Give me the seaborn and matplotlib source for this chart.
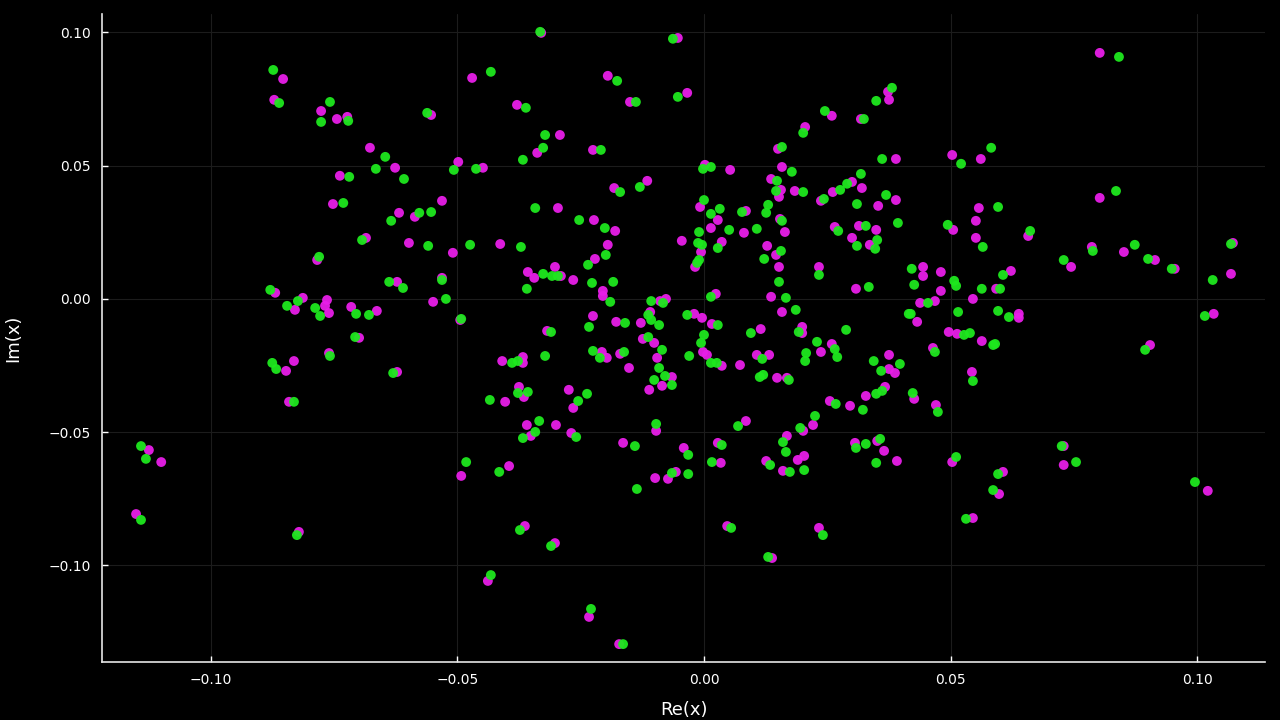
import numpy as np
import pandas as pd
import matplotlib
matplotlib.use("Agg")
import matplotlib.pyplot as plt
import seaborn as sns

# eigenvalue estimates (Re, Im)
magenta_re = [
    -0.0853, -0.0871, -0.0776, -0.0744, -0.0723, -0.0677, -0.0626, -0.0738, -0.0752, -0.0618,
    -0.0330, -0.0053, -0.0470, -0.0195, -0.0034, -0.0379, -0.0150, -0.0553, -0.0292, -0.0338,
    -0.0225, -0.0498, -0.0448, -0.0531, -0.0586, -0.0296, -0.0223, -0.0180, -0.0182, -0.0115,
    -0.0008, 0.0373, 0.0375, 0.0259, 0.0318, 0.0205, 0.0150, 0.0389, 0.0503, 0.0561,
    0.0002, 0.0053, 0.0158, 0.0136, 0.0156, 0.0152, 0.0184, 0.0300, 0.0261, 0.0320,
    0.0237, 0.0389, 0.0353, 0.0028, 0.0014, 0.0085, 0.0154, 0.0081, 0.0164, 0.0265,
    0.0314, 0.0349, 0.0505, 0.0557, 0.0551, 0.0802, 0.0802, -0.0685, -0.0784, -0.0622,
    -0.0869, -0.0829, -0.0813, -0.0764, -0.0768, -0.0760, -0.0715, -0.0663, -0.0699, -0.0760,
    -0.0831, -0.0847, -0.0841, -0.0622, -0.1125, -0.1100, -0.1151, -0.0821, -0.0598, -0.0509,
    -0.0413, -0.0531, -0.0549, -0.0494, -0.0357, -0.0344, -0.0302, -0.0290, -0.0265, -0.0195,
    -0.0221, -0.0205, -0.0205, -0.0225, -0.0178, -0.0128, -0.0089, -0.0077, -0.0109, -0.0020,
    -0.0004, -0.0045, -0.0006, -0.0018, -0.0002, -0.0318, -0.0409, -0.0367, -0.0367, -0.0207,
    -0.0197, -0.0170, -0.0124, -0.0101, -0.0095, -0.0152, -0.0065, -0.0111, -0.0085, -0.0375,
    -0.0365, -0.0403, -0.0274, -0.0265, -0.0359, -0.0351, -0.0300, -0.0269, -0.0097, -0.0164,
    -0.0041, -0.0492, -0.0395, -0.0099, -0.0073, -0.0057, -0.0363, -0.0302, -0.0438, -0.0233,
    -0.0172, 0.0036, 0.0128, 0.0146, 0.0152, 0.0136, 0.0158, 0.0233, 0.0308, 0.0300,
    0.0336, 0.0024, 0.0016, 0.0006, 0.0036, 0.0073, 0.0115, 0.0199, 0.0199, 0.0259,
    0.0237, 0.0107, 0.0132, 0.0148, 0.0168, 0.0375, 0.0375, 0.0387, 0.0367, 0.0328,
    0.0255, 0.0296, 0.0221, 0.0201, 0.0085, 0.0168, 0.0028, 0.0306, 0.0351, 0.0426,
    0.0470, 0.0464, 0.0543, 0.0563, 0.0496, 0.0513, 0.0432, 0.0438, 0.0468, 0.0545,
    0.0444, 0.0444, 0.0480, 0.0480, 0.0592, 0.0551, 0.0657, 0.0744, 0.0786, 0.0851,
    0.0914, 0.0954, 0.1072, 0.1068, 0.0622, 0.0638, 0.0638, 0.0904, 0.1033, 0.0729,
    0.0034, 0.0126, 0.0160, 0.0190, 0.0203, 0.0365, 0.0391, 0.0503, 0.0598, 0.0047,
    0.0233, 0.0138, 0.0545, 0.0729, 0.0606, 0.1021,
]
magenta_im = [
    0.0825, 0.0747, 0.0705, 0.0675, 0.0683, 0.0567, 0.0492, 0.0462, 0.0356, 0.0323,
    0.0998, 0.0979, 0.0829, 0.0837, 0.0773, 0.0728, 0.0739, 0.0690, 0.0615, 0.0548,
    0.0559, 0.0514, 0.0492, 0.0368, 0.0308, 0.0341, 0.0296, 0.0255, 0.0416, 0.0443,
    0.0345, 0.0777, 0.0747, 0.0687, 0.0675, 0.0645, 0.0563, 0.0525, 0.0540, 0.0525,
    0.0503, 0.0484, 0.0495, 0.0450, 0.0409, 0.0383, 0.0405, 0.0439, 0.0401, 0.0416,
    0.0368, 0.0371, 0.0349, 0.0296, 0.0266, 0.0330, 0.0300, 0.0248, 0.0251, 0.0270,
    0.0274, 0.0259, 0.0259, 0.0341, 0.0293, 0.0923, 0.0379, 0.0229, 0.0146, 0.0064,
    0.0023, -0.0041, 0.0004, -0.0004, -0.0026, -0.0053, -0.0030, -0.0045, -0.0146, -0.0203,
    -0.0233, -0.0270, -0.0386, -0.0274, -0.0567, -0.0612, -0.0807, -0.0874, 0.0210, 0.0173,
    0.0206, 0.0079, -0.0011, -0.0079, 0.0101, 0.0079, 0.0120, 0.0086, 0.0071, 0.0203,
    0.0150, 0.0030, 0.0011, -0.0064, -0.0086, -0.0090, -0.0008, 0.0000, -0.0049, -0.0056,
    -0.0071, 0.0218, 0.0176, 0.0120, -0.0199, -0.0120, -0.0233, -0.0218, -0.0240, -0.0199,
    -0.0221, -0.0206, -0.0150, -0.0165, -0.0221, -0.0259, -0.0293, -0.0341, -0.0326, -0.0330,
    -0.0368, -0.0386, -0.0341, -0.0409, -0.0473, -0.0514, -0.0473, -0.0503, -0.0495, -0.0540,
    -0.0559, -0.0664, -0.0627, -0.0672, -0.0675, -0.0649, -0.0852, -0.0916, -0.1058, -0.1193,
    -0.1295, 0.0214, 0.0199, 0.0165, 0.0120, 0.0008, -0.0049, 0.0120, 0.0038, 0.0229,
    0.0203, 0.0019, -0.0094, -0.0210, -0.0251, -0.0248, -0.0113, -0.0105, -0.0128, -0.0169,
    -0.0199, -0.0210, -0.0210, -0.0296, -0.0296, -0.0210, -0.0263, -0.0278, -0.0330, -0.0364,
    -0.0383, -0.0401, -0.0473, -0.0495, -0.0458, -0.0514, -0.0540, -0.0540, -0.0533, -0.0375,
    -0.0398, -0.0184, -0.0274, -0.0158, -0.0124, -0.0131, -0.0086, -0.0015, -0.0008, 0.0000,
    0.0120, 0.0086, 0.0101, 0.0030, 0.0038, 0.0229, 0.0236, 0.0120, 0.0195, 0.0176,
    0.0146, 0.0113, 0.0210, 0.0094, 0.0105, -0.0056, -0.0071, -0.0173, -0.0056, -0.0552,
    -0.0615, -0.0608, -0.0645, -0.0604, -0.0589, -0.0570, -0.0608, -0.0612, -0.0732, -0.0852,
    -0.0859, -0.0972, -0.0822, -0.0623, -0.0649, -0.0720,
]
green_re = [
    -0.0873, -0.0861, -0.0758, -0.0776, -0.0721, -0.0646, -0.0665, -0.0719, -0.0731, -0.0634,
    -0.0332, -0.0063, -0.0432, -0.0176, -0.0053, -0.0361, -0.0138, -0.0561, -0.0322, -0.0326,
    -0.0367, -0.0209, -0.0507, -0.0462, -0.0608, -0.0577, -0.0553, -0.0342, -0.0253, -0.0201,
    -0.0170, -0.0130, -0.0002, 0.0000, -0.0010, 0.0381, 0.0349, 0.0245, 0.0324, 0.0201,
    0.0158, 0.0361, 0.0521, 0.0582, 0.0014, 0.0178, 0.0148, 0.0146, 0.0201, 0.0318,
    0.0290, 0.0276, 0.0243, 0.0369, 0.0310, 0.0014, 0.0032, 0.0051, 0.0077, 0.0130,
    0.0126, 0.0158, 0.0107, 0.0272, 0.0328, 0.0393, 0.0494, 0.0596, 0.0841, 0.0835,
    0.0661, -0.0693, -0.0780, -0.0638, -0.0879, -0.0845, -0.0823, -0.0788, -0.0778, -0.0705,
    -0.0679, -0.0707, -0.0758, -0.0875, -0.0867, -0.0831, -0.0630, -0.1141, -0.1131, -0.1141,
    -0.0825, -0.0559, -0.0474, -0.0371, -0.0610, -0.0531, -0.0523, -0.0492, -0.0326, -0.0308,
    -0.0296, -0.0359, -0.0199, -0.0235, -0.0227, -0.0184, -0.0190, -0.0233, -0.0160, -0.0107,
    -0.0083, -0.0113, -0.0107, -0.0091, -0.0034, -0.0012, -0.0004, -0.0010, -0.0014, 0.0000,
    -0.0006, -0.0310, -0.0322, -0.0389, -0.0377, -0.0225, -0.0211, -0.0162, -0.0113, -0.0085,
    -0.0091, -0.0079, -0.0065, -0.0101, -0.0030, -0.0377, -0.0357, -0.0434, -0.0237, -0.0255,
    -0.0334, -0.0342, -0.0367, -0.0259, -0.0097, -0.0140, -0.0032, -0.0482, -0.0415, -0.0065,
    -0.0032, -0.0136, -0.0373, -0.0310, -0.0432, -0.0229, -0.0164, 0.0028, 0.0156, 0.0122,
    0.0152, 0.0166, 0.0186, 0.0233, 0.0334, 0.0310, 0.0351, 0.0347, 0.0014, 0.0028,
    0.0014, 0.0026, 0.0095, 0.0192, 0.0288, 0.0229, 0.0265, 0.0270, 0.0207, 0.0205,
    0.0118, 0.0120, 0.0113, 0.0172, 0.0344, 0.0359, 0.0397, 0.0361, 0.0349, 0.0267,
    0.0322, 0.0225, 0.0195, 0.0069, 0.0160, 0.0036, 0.0328, 0.0357, 0.0308, 0.0423,
    0.0474, 0.0468, 0.0545, 0.0586, 0.0527, 0.0539, 0.0415, 0.0419, 0.0454, 0.0515,
    0.0596, 0.0421, 0.0426, 0.0507, 0.0511, 0.0563, 0.0600, 0.0565, 0.0729, 0.0788,
    0.0873, 0.0900, 0.0948, 0.1068, 0.1031, 0.0606, 0.0618, 0.0590, 0.0894, 0.1015,
    0.0725, 0.0016, 0.0166, 0.0134, 0.0174, 0.0203, 0.0349, 0.0511, 0.0596, 0.0586,
    0.0055, 0.0241, 0.0130, 0.0531, 0.0754, 0.0995,
]
green_im = [
    0.0859, 0.0735, 0.0739, 0.0664, 0.0668, 0.0533, 0.0488, 0.0458, 0.0360, 0.0293,
    0.1002, 0.0976, 0.0852, 0.0818, 0.0758, 0.0717, 0.0739, 0.0698, 0.0615, 0.0567,
    0.0522, 0.0559, 0.0484, 0.0488, 0.0450, 0.0323, 0.0326, 0.0341, 0.0296, 0.0266,
    0.0401, 0.0420, 0.0488, 0.0371, 0.0251, 0.0792, 0.0743, 0.0705, 0.0675, 0.0623,
    0.0570, 0.0525, 0.0507, 0.0567, 0.0495, 0.0477, 0.0443, 0.0405, 0.0401, 0.0469,
    0.0432, 0.0409, 0.0375, 0.0390, 0.0356, 0.0319, 0.0338, 0.0259, 0.0326, 0.0353,
    0.0323, 0.0293, 0.0263, 0.0255, 0.0274, 0.0285, 0.0278, 0.0345, 0.0908, 0.0405,
    0.0255, 0.0221, 0.0158, 0.0064, 0.0034, -0.0026, -0.0008, -0.0034, -0.0064, -0.0056,
    -0.0060, -0.0143, -0.0214, -0.0240, -0.0263, -0.0386, -0.0278, -0.0552, -0.0600, -0.0829,
    -0.0886, 0.0199, 0.0203, 0.0195, 0.0041, 0.0071, 0.0000, -0.0075, 0.0094, 0.0086,
    0.0086, 0.0038, 0.0165, 0.0128, 0.0060, 0.0064, -0.0011, -0.0105, -0.0090, -0.0008,
    -0.0015, -0.0060, -0.0079, -0.0098, -0.0060, 0.0210, 0.0203, 0.0146, 0.0135, -0.0135,
    -0.0165, -0.0124, -0.0214, -0.0240, -0.0233, -0.0195, -0.0221, -0.0199, -0.0143, -0.0191,
    -0.0259, -0.0289, -0.0323, -0.0304, -0.0214, -0.0353, -0.0349, -0.0379, -0.0356, -0.0383,
    -0.0458, -0.0499, -0.0522, -0.0518, -0.0469, -0.0552, -0.0585, -0.0612, -0.0649, -0.0653,
    -0.0657, -0.0713, -0.0867, -0.0927, -0.1036, -0.1163, -0.1295, 0.0191, 0.0180, 0.0150,
    0.0064, 0.0004, -0.0041, 0.0090, 0.0045, 0.0199, 0.0221, 0.0188, 0.0008, -0.0098,
    -0.0240, -0.0240, -0.0128, -0.0124, -0.0116, -0.0161, -0.0188, -0.0218, -0.0203, -0.0233,
    -0.0225, -0.0285, -0.0293, -0.0304, -0.0233, -0.0270, -0.0244, -0.0345, -0.0356, -0.0394,
    -0.0416, -0.0439, -0.0484, -0.0477, -0.0537, -0.0548, -0.0544, -0.0525, -0.0559, -0.0353,
    -0.0424, -0.0199, -0.0308, -0.0173, -0.0135, -0.0128, -0.0056, -0.0056, -0.0015, -0.0049,
    -0.0045, 0.0113, 0.0053, 0.0068, 0.0049, 0.0038, 0.0038, 0.0195, 0.0146, 0.0180,
    0.0203, 0.0150, 0.0113, 0.0206, 0.0071, 0.0090, -0.0068, -0.0169, -0.0191, -0.0064,
    -0.0552, -0.0612, -0.0574, -0.0623, -0.0649, -0.0642, -0.0615, -0.0593, -0.0657, -0.0717,
    -0.0859, -0.0886, -0.0968, -0.0825, -0.0612, -0.0687,
]

df = pd.concat([
    pd.DataFrame({"re": magenta_re, "im": magenta_im, "series": "a"}),
    pd.DataFrame({"re": green_re, "im": green_im, "series": "b"}),
], ignore_index=True)

sns.set_theme(style="dark", rc={
    "figure.facecolor": "black",
    "axes.facecolor": "black",
    "axes.edgecolor": "#e6e6e6",
    "axes.labelcolor": "white",
    "xtick.color": "white",
    "ytick.color": "white",
    "text.color": "white",
    "grid.color": "#1c1c1c",
})
plt.rcParams["font.family"] = ["DejaVu Sans"]

fig = plt.figure(figsize=(12.8, 7.2), dpi=100)
ax = fig.add_axes([0.0797, 0.0806, 0.9086, 0.90])

sns.scatterplot(data=df, x="re", y="im", hue="series",
                palette={"a": "#e81ee8", "b": "#1ee81e"},
                s=50, linewidth=0, alpha=0.95, legend=False, ax=ax)

# unicode minus like the reference tick labels
fmt = matplotlib.ticker.FuncFormatter(lambda v, pos: f"{v:.2f}".replace("-", "\u2212"))

ax.set_xlim(-0.1220, 0.1137)
ax.set_ylim(-0.1362, 0.1069)
ax.set_xticks([-0.10, -0.05, 0.00, 0.05, 0.10])
ax.set_yticks([-0.10, -0.05, 0.00, 0.05, 0.10])
ax.xaxis.set_major_formatter(fmt)
ax.yaxis.set_major_formatter(fmt)
ax.grid(True, color="#1c1c1c", linewidth=0.8)
ax.set_axisbelow(True)
ax.tick_params(direction="in", length=4, width=1, labelsize=10, pad=8,
               bottom=True, left=True)
for side in ["top", "right"]:
    ax.spines[side].set_visible(False)
for side in ["left", "bottom"]:
    ax.spines[side].set_linewidth(1.2)
ax.set_xlabel("Re(x)", fontsize=13, labelpad=10)
ax.set_ylabel("Im(x)", fontsize=13, labelpad=19)

fig.savefig("out.png", dpi=100, facecolor="black")
